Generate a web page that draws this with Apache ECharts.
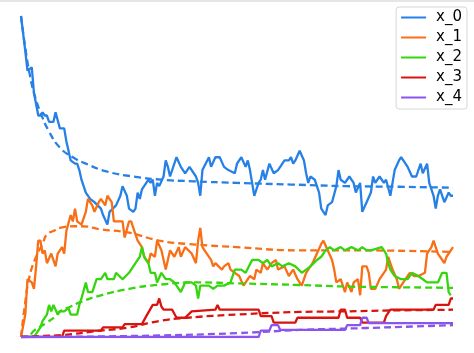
<!DOCTYPE html>
<html>
<head>
<meta charset="utf-8">
<script src="https://cdn.jsdelivr.net/npm/echarts@6/dist/echarts.min.js"></script>
<style>
  html, body { margin: 0; padding: 0; background: #fff; }
  #chart { width: 474px; height: 353px; }
</style>
</head>
<body>
<div id="chart"></div>
<script>
// series names
const names = ['x_0', 'x_1', 'x_2', 'x_3', 'x_4']
const colors = ['#2680e6', '#f86f16', '#35d60e', '#d9140f', '#8a55ee']

// sampled paths, [step, value]
const x0Path = [[0,1.00],[2,0.89],[3,0.83],[5,0.84],[6,0.76],[8,0.69],[9,0.69],[10,0.70],[11,0.69],[12,0.69],[13,0.67],[15,0.67],[16,0.70],[18,0.65],[20,0.65],[21,0.61],[22,0.58],[23,0.55],[25,0.54],[26,0.54],[27,0.52],[28,0.49],[30,0.45],[32,0.43],[34,0.42],[37,0.40],[38,0.38],[40,0.35],[41,0.39],[44,0.41],[46,0.44],[47,0.47],[49,0.44],[50,0.40],[52,0.39],[53,0.40],[54,0.45],[55,0.43],[56,0.46],[59,0.49],[60,0.48],[61,0.49],[62,0.44],[63,0.48],[64,0.47],[66,0.50],[67,0.55],[68,0.53],[69,0.50],[72,0.56],[74,0.53],[76,0.51],[78,0.53],[81,0.50],[82,0.48],[83,0.44],[84,0.52],[87,0.56],[88,0.53],[90,0.56],[92,0.56],[94,0.53],[96,0.52],[99,0.51],[100,0.54],[102,0.56],[104,0.53],[105,0.55],[106,0.52],[108,0.44],[110,0.48],[111,0.49],[112,0.52],[113,0.49],[115,0.54],[117,0.51],[119,0.52],[120,0.53],[122,0.55],[124,0.55],[125,0.56],[126,0.54],[127,0.55],[129,0.58],[131,0.55],[132,0.51],[133,0.48],[134,0.50],[136,0.49],[138,0.45],[139,0.40],[141,0.38],[142,0.41],[144,0.42],[146,0.47],[147,0.52],[148,0.49],[150,0.48],[152,0.50],[154,0.48],[155,0.45],[157,0.48],[158,0.39],[160,0.42],[162,0.45],[163,0.50],[164,0.48],[166,0.50],[168,0.48],[169,0.49],[171,0.44],[172,0.48],[173,0.52],[175,0.55],[176,0.56],[177,0.55],[179,0.53],[181,0.50],[183,0.50],[185,0.54],[186,0.51],[188,0.54],[189,0.48],[191,0.44],[192,0.40],[193,0.44],[194,0.46],[196,0.42],[198,0.45],[199,0.44],[200,0.44]]

const x1Path = [[0,0.00],[2,0.07],[3,0.18],[5,0.17],[6,0.15],[7,0.22],[8,0.30],[9,0.30],[10,0.26],[11,0.27],[12,0.23],[14,0.26],[16,0.22],[17,0.26],[19,0.28],[20,0.26],[21,0.33],[23,0.38],[24,0.36],[25,0.40],[26,0.36],[28,0.35],[30,0.39],[31,0.43],[33,0.41],[34,0.39],[36,0.42],[37,0.43],[39,0.41],[40,0.44],[42,0.42],[43,0.36],[45,0.36],[47,0.36],[48,0.31],[50,0.36],[51,0.36],[53,0.32],[54,0.30],[56,0.28],[57,0.25],[59,0.23],[60,0.26],[62,0.25],[63,0.30],[65,0.27],[67,0.21],[68,0.24],[69,0.27],[71,0.25],[73,0.28],[74,0.25],[76,0.28],[79,0.26],[81,0.23],[82,0.30],[83,0.34],[84,0.28],[86,0.26],[88,0.24],[89,0.22],[90,0.23],[93,0.21],[94,0.22],[96,0.23],[97,0.21],[99,0.20],[101,0.19],[103,0.16],[106,0.19],[108,0.18],[109,0.21],[111,0.20],[112,0.23],[114,0.21],[116,0.23],[118,0.24],[119,0.21],[122,0.22],[124,0.19],[126,0.21],[128,0.18],[130,0.16],[131,0.18],[132,0.20],[135,0.23],[137,0.26],[139,0.29],[140,0.30],[142,0.27],[144,0.24],[145,0.21],[146,0.17],[148,0.18],[150,0.14],[151,0.17],[153,0.14],[154,0.17],[156,0.18],[157,0.13],[158,0.22],[160,0.22],[161,0.20],[162,0.15],[164,0.15],[166,0.18],[168,0.20],[169,0.21],[170,0.25],[172,0.21],[174,0.18],[175,0.15],[177,0.17],[180,0.20],[182,0.19],[184,0.19],[187,0.20],[188,0.26],[190,0.28],[191,0.30],[193,0.26],[194,0.25],[196,0.23],[197,0.25],[199,0.27],[200,0.28]]

const x2Path = [[0,0.00],[4,0.00],[6,0.00],[7,0.01],[9,0.03],[10,0.05],[12,0.07],[13,0.10],[14,0.08],[15,0.10],[17,0.07],[18,0.08],[20,0.08],[22,0.09],[23,0.07],[26,0.07],[27,0.10],[28,0.12],[30,0.17],[31,0.14],[33,0.14],[35,0.18],[37,0.18],[39,0.20],[40,0.18],[43,0.18],[44,0.20],[47,0.18],[50,0.20],[52,0.22],[53,0.23],[55,0.25],[56,0.28],[57,0.25],[59,0.23],[60,0.20],[62,0.20],[63,0.17],[65,0.20],[67,0.18],[69,0.18],[71,0.17],[74,0.14],[76,0.17],[79,0.17],[81,0.16],[82,0.12],[83,0.16],[87,0.16],[89,0.15],[91,0.16],[94,0.16],[97,0.17],[99,0.21],[102,0.21],[104,0.20],[107,0.24],[110,0.24],[112,0.23],[114,0.24],[116,0.22],[119,0.23],[121,0.22],[124,0.23],[127,0.22],[130,0.20],[132,0.21],[134,0.22],[137,0.24],[139,0.25],[141,0.27],[143,0.28],[145,0.27],[148,0.28],[150,0.27],[153,0.28],[156,0.27],[158,0.28],[160,0.27],[162,0.27],[167,0.28],[169,0.26],[170,0.23],[171,0.21],[173,0.19],[176,0.18],[179,0.18],[181,0.20],[184,0.19],[186,0.18],[188,0.17],[191,0.17],[193,0.17],[195,0.20],[197,0.20],[198,0.14],[199,0.13]]

const x3Path = [[0,0.00],[19,0.00],[20,0.02],[37,0.02],[38,0.03],[47,0.03],[48,0.04],[56,0.04],[58,0.065],[61,0.10],[63,0.10],[64,0.12],[65,0.095],[66,0.085],[70,0.085],[72,0.06],[76,0.06],[79,0.08],[90,0.085],[91,0.10],[92,0.085],[110,0.085],[111,0.065],[116,0.065],[117,0.045],[127,0.045],[128,0.06],[147,0.06],[148,0.085],[150,0.085],[151,0.06],[157,0.06],[158,0.045],[168,0.045],[169,0.065],[171,0.085],[191,0.085],[192,0.10],[198,0.10],[199,0.12],[200,0.12]]

const x4Path = [[0,0.00],[110,0.00],[111,0.02],[115,0.02],[116,0.037],[119,0.037],[120,0.022],[150,0.022],[151,0.037],[157,0.037],[158,0.06],[160,0.06],[161,0.043],[200,0.043]]

// expected values (dashed)
const x0Mean = [[0,1.00],[2,0.90],[4,0.82],[6,0.76],[9,0.70],[13,0.64],[18,0.59],[24,0.56],[30,0.54],[40,0.515],[52,0.50],[65,0.49],[80,0.485],[100,0.48],[125,0.475],[150,0.47],[175,0.468],[200,0.465]]
const x1Mean = [[0,0.00],[2,0.11],[4,0.19],[7,0.25],[10,0.29],[12,0.32],[15,0.33],[18,0.34],[25,0.345],[28,0.345],[37,0.335],[50,0.325],[64,0.30],[77,0.29],[100,0.28],[129,0.27],[152,0.27],[200,0.265]]
const x2Mean = [[0,0.00],[3,0.00],[6,0.02],[12,0.045],[16,0.065],[18,0.08],[23,0.095],[28,0.11],[37,0.13],[50,0.15],[64,0.163],[83,0.17],[100,0.167],[129,0.162],[152,0.157],[175,0.155],[200,0.153]]
const x3Mean = [[0,0.00],[9,0.003],[19,0.006],[37,0.02],[50,0.03],[64,0.05],[77,0.06],[100,0.07],[129,0.078],[151,0.08],[175,0.083],[200,0.085]]
const x4Mean = [[0,0.00],[50,0.003],[100,0.012],[129,0.022],[160,0.028],[200,0.037]]

const paths = [x0Path, x1Path, x2Path, x3Path, x4Path]
const means = [x0Mean, x1Mean, x2Mean, x3Mean, x4Mean]

var chart = echarts.init(document.getElementById('chart'))

var series = []
names.forEach(function (name, i) {
  series.push({
    name: name,
    type: 'line',
    data: paths[i],
    showSymbol: false,
    lineStyle: { width: 2.3, color: colors[i] },
    itemStyle: { color: colors[i] },
    z: 2 + i
  })
  series.push({
    name: name + ' mean',
    type: 'line',
    data: means[i],
    smooth: true,
    showSymbol: false,
    lineStyle: { width: 2.3, color: colors[i], type: [7, 4] },
    itemStyle: { color: colors[i] },
    z: 2 + i
  })
})

var option = {
  animation: false,
  grid: { left: 21, right: 21, top: 16, bottom: 16 },
  xAxis: { type: 'value', min: 0, max: 200, show: false },
  yAxis: { type: 'value', min: 0, max: 1, show: false },
  legend: {
    data: names,
    orient: 'vertical',
    right: 7,
    top: 7,
    padding: [3, 5, 4, 5],
    itemWidth: 25,
    itemHeight: 2,
    itemGap: 5,
    icon: 'rect',
    borderColor: '#d6d6d6',
    borderWidth: 1,
    borderRadius: 3,
    backgroundColor: 'rgba(255,255,255,0.8)',
    textStyle: {
      fontFamily: 'DejaVu Sans',
      fontSize: 15,
      lineHeight: 15,
      color: '#000',
      padding: [0, 0, 0, 5]
    }
  },
  graphic: [{
    type: 'rect',
    shape: { x: 0, y: 0, width: 474, height: 2 },
    style: { fill: '#e6e6e6' }
  }],
  series: series
}

chart.setOption(option)
</script>
</body>
</html>
